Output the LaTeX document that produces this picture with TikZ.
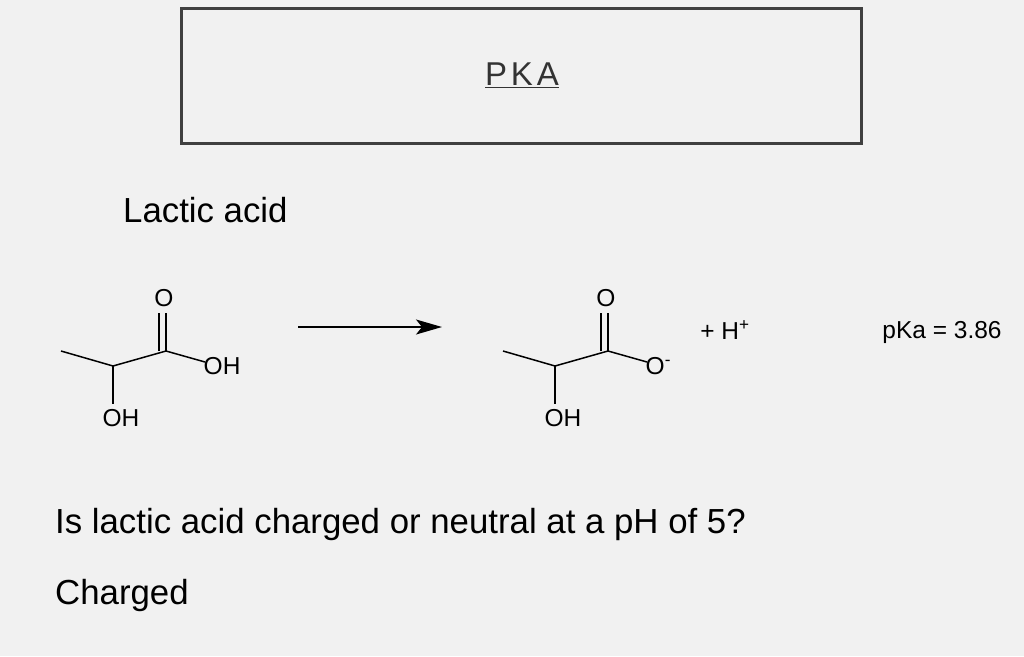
\documentclass[tikz,border=0pt]{standalone}
\usepackage{fontspec}
\setmainfont{Liberation Sans}
\usetikzlibrary{arrows.meta}
\begin{document}
\begin{tikzpicture}[x=1pt,y=-1pt,
  bond/.style={line width=1.5pt},
  lbl/.style={inner sep=0.5pt,font=\fontsize{24.5}{27}\selectfont},
  big/.style={font=\fontsize{34.8}{38}\selectfont,anchor=west,inner sep=0pt}]
\fill[white!94.5!black] (0,0) rectangle (1024,656);
\useasboundingbox (0,0) rectangle (1024,656);
\node[draw=black!75,line width=3pt,minimum width=680,minimum height=135,inner sep=0pt] (box) at (521,75.5) {};
\node[font=\fontsize{33}{36}\selectfont\addfontfeature{LetterSpace=12},text=black!80] (pka) at (522,75) {\underline{PKA}};
\node[big] (lac) at (123,210) {Lactic acid};
\foreach \dx/\n/\ol/\ot in {0/a/OH/{OH}, 442/b/Om/{O\textsuperscript{-}}}{
  \begin{scope}[xshift=\dx]
  \coordinate (\n me) at (61,351);
  \coordinate (\n ch) at (113,366);
  \coordinate (\n c) at (166,351);
  \node[lbl] (\n o) at (164,298) {O};
  \node[lbl,anchor=west] (\n oh) at (203,366) {\ot};
  \node[lbl] (\n ho) at (121,418) {OH};
  \draw[bond] (\n me) -- (\n ch) -- (\n c);
  \draw[bond] (\n ch) -- (113,404);
  \draw[bond] (\n c) -- (205,362);
  \draw[bond] (\n c) -- (166,313);
  \draw[bond] (159,351) -- (159,313);
  \end{scope}}
\coordinate (as) at (298,327);
\coordinate (ae) at (442,327);
\draw[bond,-{Stealth[length=26pt,width=15pt,inset=6pt]}] (as) -- (ae);
\node[lbl] (h) at (725,330) {+ H\textsuperscript{+}};
\node[lbl] (pk) at (942,332) {pKa = 3.86};
\node[big] (q) at (55,524) {Is lactic acid charged or neutral at a pH of 5?};
\node[big] (ch) at (55,595) {Charged};
\end{tikzpicture}
\end{document}
